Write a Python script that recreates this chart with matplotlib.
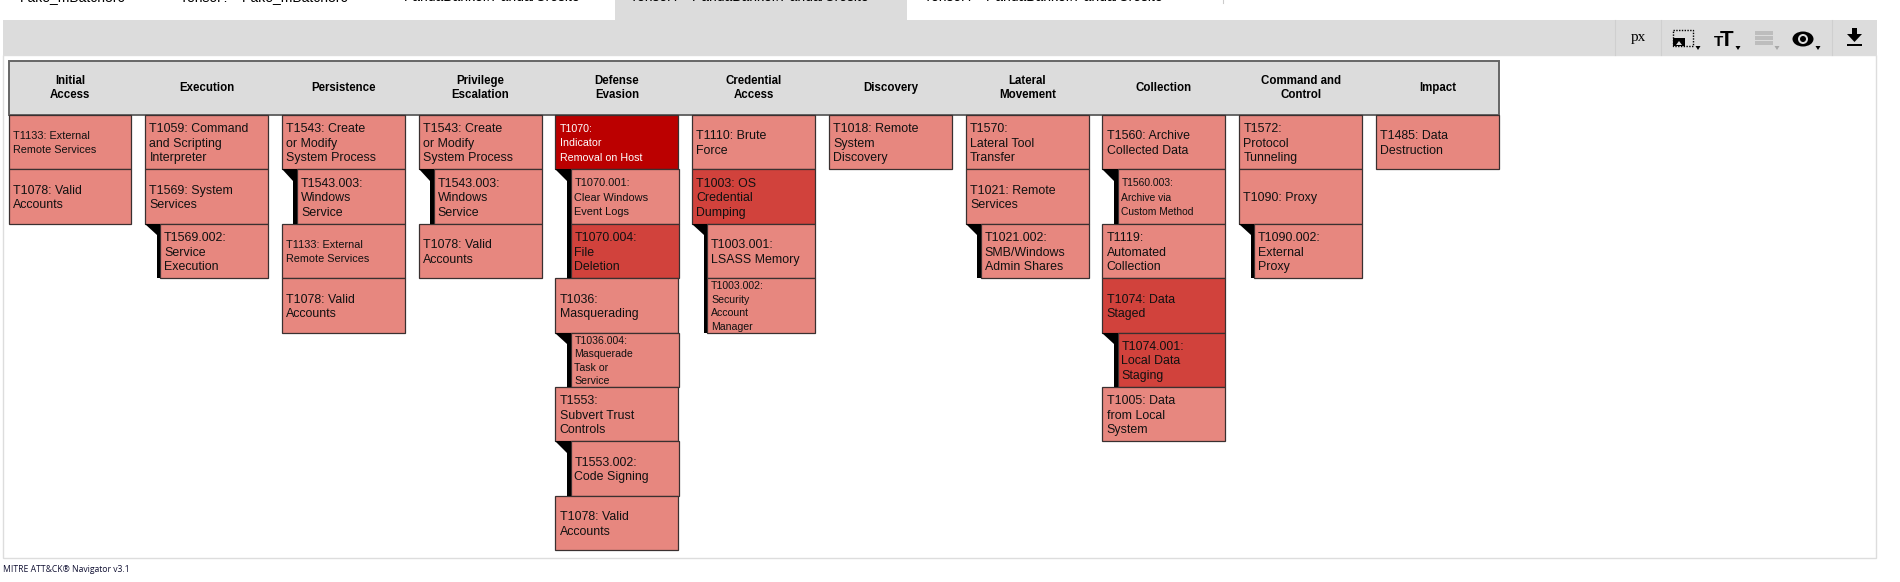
"""MITRE ATT&CK Navigator layer drawn as a matrix of technique cells."""

import matplotlib
matplotlib.use("Agg")
import matplotlib.pyplot as plt
from matplotlib.patches import Ellipse, Polygon, Rectangle

plt.rcParams["font.family"] = ["Liberation Sans", "DejaVu Sans"]

tactics = [
    "Initial\nAccess", "Execution", "Persistence", "Privilege\nEscalation",
    "Defense\nEvasion", "Credential\nAccess", "Discovery", "Lateral\nMovement",
    "Collection", "Command and\nControl", "Impact",
]

techniques = [
    ["T1133: External\nRemote Services", "T1078: Valid\nAccounts"],
    ["T1059: Command\nand Scripting\nInterpreter", "T1569: System\nServices",
     "T1569.002:\nService\nExecution"],
    ["T1543: Create\nor Modify\nSystem Process", "T1543.003:\nWindows\nService",
     "T1133: External\nRemote Services", "T1078: Valid\nAccounts"],
    ["T1543: Create\nor Modify\nSystem Process", "T1543.003:\nWindows\nService",
     "T1078: Valid\nAccounts"],
    ["T1070:\nIndicator\nRemoval on Host", "T1070.001:\nClear Windows\nEvent Logs",
     "T1070.004:\nFile\nDeletion", "T1036:\nMasquerading",
     "T1036.004:\nMasquerade\nTask or\nService", "T1553:\nSubvert Trust\nControls",
     "T1553.002:\nCode Signing", "T1078: Valid\nAccounts"],
    ["T1110: Brute\nForce", "T1003: OS\nCredential\nDumping",
     "T1003.001:\nLSASS Memory", "T1003.002:\nSecurity\nAccount\nManager"],
    ["T1018: Remote\nSystem\nDiscovery"],
    ["T1570:\nLateral Tool\nTransfer", "T1021: Remote\nServices",
     "T1021.002:\nSMB/Windows\nAdmin Shares"],
    ["T1560: Archive\nCollected Data", "T1560.003:\nArchive via\nCustom Method",
     "T1119:\nAutomated\nCollection", "T1074: Data\nStaged",
     "T1074.001:\nLocal Data\nStaging", "T1005: Data\nfrom Local\nSystem"],
    ["T1572:\nProtocol\nTunneling", "T1090: Proxy", "T1090.002:\nExternal\nProxy"],
    ["T1485: Data\nDestruction"],
]

scores = [
    [1, 1],
    [1, 1, 1],
    [1, 1, 1, 1],
    [1, 1, 1],
    [3, 1, 2, 1, 1, 1, 1, 1],
    [1, 2, 1, 1],
    [1],
    [1, 1, 1],
    [1, 1, 1, 2, 2, 1],
    [1, 1, 1],
    [1],
]

score_colors = {1: "#e7877f", 2: "#d1423c", 3: "#bb0000"}

# cells where the navigator shrinks the text to fit
cell_font = {
    "T1133": 7.8, "T1070": 7.7, "T1070.001": 7.9, "T1560.003": 7.4,
    "T1036.004": 7.6, "T1003.002": 7.6,
}

tab_titles = [
    "Fake_mBatch3r0", "Tensor? - Fake_mBatch3r0", "PandaBanker/Panda/Crosite",
    "Tensor? - PandaBanker/Panda/Crosite", "Tensor? - PandaBanker/Panda/Crosite",
]
footer = "MITRE ATT&CK\u00ae Navigator v3.1"

W, H = 1900, 582
COL_PX, ROW_PX = 136.75, 54.4
LEFT_PX, HEADER_TOP_PX = 8.5, 61.0
CELL_W = 123.0 / COL_PX
SUB_IN = 15.2 / COL_PX
BAND_W = 3.7 / COL_PX
NOTCH_H = 11.5 / ROW_PX
PAD = 4.2 / COL_PX
SUB_PAD = 3.7 / COL_PX
CHROME = "#dcdcdc"

fig = plt.figure(figsize=(W / 100, H / 100), dpi=100, facecolor="white")

# page chrome, in pixels
page = fig.add_axes([0, 0, 1, 1], zorder=1)
page.set_xlim(0, W)
page.set_ylim(H, 0)
page.axis("off")

page.add_patch(Rectangle((3, 55), 1873, 503, fc="white", ec="#dddddd", lw=1))
page.add_patch(Rectangle((3, 20), 1874, 35, fc=CHROME, ec="none"))
page.add_patch(Rectangle((615, 0), 292, 20, fc=CHROME, ec="none"))
for sep_x in [1615, 1661, 1832]:
    page.plot([sep_x, sep_x], [20, 55], color="#cfcfcf", lw=0.8)

tab_x = [20, 180, 404, 630, 924]
close_x = [139, 365, 594, 886, 1180]
for x, cx, title in zip(tab_x, close_x, tab_titles):
    page.text(x, 1.1, title, fontsize=10, va="baseline", color="black", clip_on=True)
    page.text(cx, 1.1, "\u00bb", fontsize=9, va="baseline", ha="center", color="#aaaaaa", clip_on=True)
page.plot([1223, 1223], [0, 3], color="#cccccc", lw=0.8)

page.text(1638, 37, "px", family="Liberation Serif", fontsize=11, ha="center", va="center")

# layer image icon
page.add_patch(Rectangle((1673, 30), 20, 16, fc="none", ec="black", lw=1, ls=(0, (1, 1))))
page.add_patch(Rectangle((1673, 38), 12, 8, fc="black", ec="none"))
page.add_patch(Polygon([(1676, 45), (1679, 41), (1682, 45)], fc="#dcdcdc", ec="none"))
# text size icon
page.text(1719, 46, "T", fontsize=11, fontweight="bold", ha="center", va="baseline")
page.text(1727, 46, "T", fontsize=16, fontweight="bold", ha="center", va="baseline")
# disabled list icon
for bar_y in [31, 36, 41]:
    page.add_patch(Rectangle((1755, bar_y), 18, 4, fc="#bdbdbd", ec="none"))
# eye icon
page.add_patch(Ellipse((1803, 39), 21, 15, fc="black", ec="none"))
page.add_patch(Ellipse((1803, 39), 10, 10, fc="#dcdcdc", ec="none"))
page.add_patch(Ellipse((1803, 39), 6, 6, fc="black", ec="none"))
# drop-down markers
for arrow_x, arrow_c in [(1698, "black"), (1738, "black"), (1777, "#a8a8a8"), (1818, "black")]:
    page.add_patch(Polygon([(arrow_x - 2.5, 46), (arrow_x + 2.5, 46), (arrow_x, 50)], fc=arrow_c, ec="none"))
# download icon
page.add_patch(Polygon([(1852, 28), (1857, 28), (1857, 34), (1862, 34), (1854.5, 42), (1847, 34), (1852, 34)],
                       fc="black", ec="none"))
page.add_patch(Rectangle((1847, 44), 15, 2, fc="black", ec="none"))

page.text(3, 569, footer, family="Open Sans", fontsize=6.2, va="center", color="#111133")

# matrix: x is tactic number, y is row number, header sits in row -1
n_cols = len(tactics)
n_rows = max(len(col) for col in techniques)
ax = fig.add_axes([
    LEFT_PX / W,
    1 - (HEADER_TOP_PX + ROW_PX * 1 + ROW_PX * n_rows) / H + 0.4 / H,
    COL_PX * n_cols / W,
    ROW_PX * (n_rows + 1) / H,
], zorder=2)
ax.set_xlim(0, n_cols)
ax.set_ylim(n_rows, -1)
ax.axis("off")
ax.patch.set_alpha(0)

ax.add_patch(Rectangle((0, -1), n_cols - 1 + CELL_W, 1, fc="#dcdcdc", ec="#666666", lw=1.4, clip_on=False))
for i, name in enumerate(tactics):
    ax.text(i + CELL_W / 2, -0.5, name, ha="center", va="center", fontsize=8.3,
            fontweight="bold", linespacing=1.25)


def draw_cell(col, row, label, score, after_sub):
    tech_id = label.split(":")[0]
    is_sub = "." in tech_id
    x = col + (SUB_IN if is_sub else 0)
    width = CELL_W - (SUB_IN if is_sub else 0)
    ax.add_patch(Rectangle((x, row), width, 1, fc=score_colors[score], ec="#3a3030", lw=0.9,
                           clip_on=False, zorder=2))
    if is_sub:
        ax.add_patch(Rectangle((x - BAND_W, row), BAND_W, 1, fc="black", ec="none", zorder=3))
        if not after_sub:
            notch_x = x - BAND_W
            ax.add_patch(Polygon([(col, row), (notch_x, row), (notch_x, row + NOTCH_H)],
                                 fc="black", ec="none", zorder=3))
    size = cell_font.get(tech_id, 8.9)
    lines = label.split("\n")
    step = (13.4 if len(lines) > 3 else 14.5) / ROW_PX
    text_color = "white" if score == 3 else "#111111"
    text_x = x + (SUB_PAD if is_sub else PAD)
    for k, line in enumerate(lines):
        y = row + 0.5 + (k - (len(lines) - 1) / 2) * step
        ax.text(text_x, y, line, fontsize=size, color=text_color, ha="left",
                va="center_baseline", zorder=4)


for col, (labels, vals) in enumerate(zip(techniques, scores)):
    prev_sub = False
    for row, (label, score) in enumerate(zip(labels, vals)):
        draw_cell(col, row, label, score, prev_sub)
        prev_sub = "." in label.split(":")[0]

fig.savefig("out.png", dpi=100, facecolor="white")
